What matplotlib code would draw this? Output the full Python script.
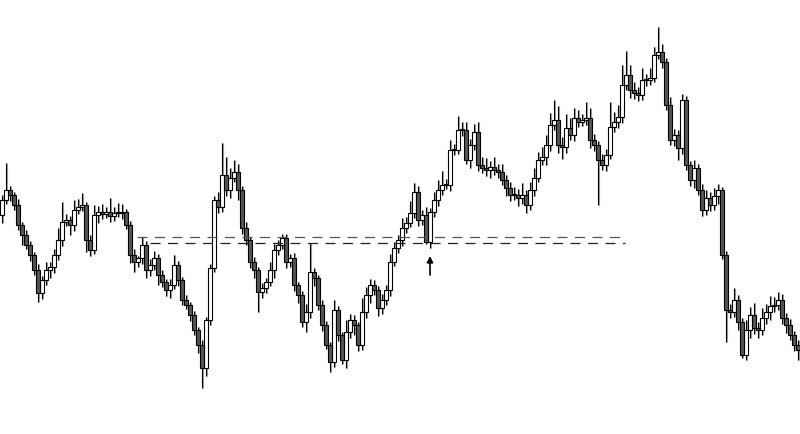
import numpy as np
import matplotlib
matplotlib.use("Agg")
import matplotlib.pyplot as plt

# close prices (arbitrary points), one candle per bar
first_open = 219
closes = [
    234, 244, 239, 229, 209, 199, 189, 179, 164, 141, 154, 164, 167, 179, 194, 212, 214, 209, 224, 227,
    229, 194, 184, 219, 222, 220, 222, 218, 221, 221, 222, 209, 179, 172, 176, 189, 164, 169, 176, 159,
    152, 144, 149, 169, 154, 134, 129, 119, 104, 89, 66, 114, 166, 234, 227, 259, 244, 256, 262, 244,
    206, 194, 172, 164, 142, 146, 152, 164, 184, 189, 196, 172, 176, 149, 139, 112, 122, 162, 156, 129,
    109, 89, 72, 124, 99, 74, 102, 114, 109, 89, 122, 139, 149, 144, 126, 134, 144, 172, 186, 194,
    206, 211, 221, 242, 214, 219, 192, 222, 234, 244, 249, 249, 284, 284, 304, 304, 274, 289, 302, 269,
    266, 264, 267, 264, 262, 254, 246, 239, 239, 236, 239, 229, 244, 256, 274, 277, 289, 309, 314, 289,
    287, 306, 299, 316, 312, 314, 316, 294, 289, 274, 269, 279, 307, 312, 317, 349, 359, 344, 341, 339,
    354, 354, 356, 379, 382, 372, 329, 294, 299, 286, 334, 269, 254, 266, 244, 224, 236, 229, 238, 244,
    179, 124, 122, 134, 112, 79, 104, 119, 106, 104, 116, 122, 128, 129, 134, 116, 109, 99, 89, 84,
]

upper_wick = [
    5, 27, 4, 3, 6, 3, 5, 4, 3, 6, 4, 8, 5, 6, 12, 20, 6, 4, 10, 8,
    12, 3, 5, 10, 6, 8, 5, 14, 6, 10, 8, 3, 4, 6, 2, 8, 4, 6, 7, 4,
    5, 3, 6, 10, 4, 3, 5, 3, 4, 3, 5, 3, 4, 4, 8, 32, 18, 10, 12, 8,
    4, 6, 3, 5, 3, 5, 4, 8, 6, 5, 4, 4, 4, 5, 3, 4, 8, 29, 4, 3,
    5, 4, 3, 10, 4, 3, 12, 6, 5, 3, 14, 8, 6, 5, 4, 6, 5, 8, 6, 5,
    10, 6, 12, 9, 6, 5, 8, 4, 8, 10, 14, 6, 10, 6, 14, 8, 8, 6, 8, 10,
    8, 10, 6, 10, 6, 8, 5, 6, 8, 6, 12, 5, 8, 10, 8, 10, 10, 12, 20, 14,
    8, 14, 10, 10, 8, 6, 16, 10, 6, 4, 6, 6, 25, 10, 12, 20, 24, 10, 8, 6,
    12, 6, 10, 8, 25, 8, 4, 8, 6, 5, 6, 4, 4, 8, 4, 6, 8, 6, 8, 6,
    3, 4, 6, 12, 5, 4, 10, 8, 12, 6, 10, 8, 10, 8, 8, 6, 5, 6, 4, 5,
]

lower_wick = [
    8, 4, 6, 5, 5, 10, 4, 6, 5, 9, 6, 5, 8, 6, 5, 6, 4, 10, 6, 4,
    4, 12, 6, 4, 8, 5, 4, 6, 5, 4, 6, 4, 8, 10, 5, 6, 8, 6, 5, 10,
    5, 6, 8, 4, 6, 5, 4, 6, 5, 8, 20, 8, 5, 4, 6, 5, 6, 8, 4, 10,
    6, 5, 6, 8, 20, 6, 5, 4, 8, 5, 4, 6, 5, 6, 8, 5, 10, 6, 8, 5,
    6, 4, 10, 5, 6, 4, 8, 6, 10, 6, 5, 6, 8, 5, 8, 6, 5, 6, 4, 5,
    6, 5, 4, 5, 6, 5, 2, 6, 5, 6, 5, 4, 6, 5, 4, 6, 4, 8, 5, 6,
    5, 6, 8, 5, 6, 5, 8, 6, 5, 8, 6, 8, 5, 6, 4, 5, 8, 6, 5, 8,
    12, 6, 5, 6, 5, 4, 5, 8, 6, 45, 5, 6, 4, 5, 6, 6, 5, 8, 6, 6,
    5, 6, 5, 4, 4, 6, 5, 5, 6, 12, 6, 5, 6, 8, 5, 6, 5, 6, 5, 8,
    4, 32, 6, 5, 8, 3, 5, 8, 6, 8, 5, 6, 8, 6, 5, 6, 8, 5, 6, 10,
]

# horizontal levels: (price, start bar, end bar)
upper_level = (197, 33.75, 155.75)
lower_level = (191, 37.0, 155.75)
arrow_bar = 107
arrow_from, arrow_to = 159, 178

closes = np.array(closes, dtype=float)
opens = np.concatenate([[first_open], closes[:-1]])
top = np.maximum(opens, closes)
bot = np.minimum(opens, closes)
highs = top + np.array(upper_wick)
lows = bot - np.array(lower_wick)
idx = np.arange(len(closes))

fig = plt.figure(figsize=(8, 4.34), dpi=100)
ax = fig.add_axes([0, 0, 1, 1])

# gray shadow wick + black wick, like the reference
ax.vlines(idx + 0.3, lows, highs, color="#a0a0a0", lw=0.8, zorder=1)
ax.vlines(idx, lows, highs, color="black", lw=0.8, zorder=1)
up = closes >= opens
height = np.maximum(top - bot, 0.8)
ax.bar(idx[up], height[up], bottom=bot[up], width=0.8, color="white",
       edgecolor="black", lw=0.8, zorder=2)
ax.bar(idx[~up], height[~up], bottom=bot[~up], width=0.8, color="#555555",
       edgecolor="black", lw=0.8, zorder=2)

ax.hlines(upper_level[0], upper_level[1], upper_level[2], color="#555555",
          lw=0.9, linestyles=(0, (8, 6)), zorder=3)
ax.hlines(lower_level[0], lower_level[1], lower_level[2], color="#222222",
          lw=0.9, linestyles=(0, (8, 6)), zorder=3)

ax.annotate("", xy=(arrow_bar, arrow_to), xytext=(arrow_bar, arrow_from),
            arrowprops=dict(arrowstyle="-|>", color="black", lw=1.2,
                            mutation_scale=9, shrinkA=0, shrinkB=0))

ax.set_xlim(-0.5, len(closes) - 0.5)
ax.set_ylim(0, 434)
ax.axis("off")

fig.savefig("out.png", dpi=100, facecolor="white")
